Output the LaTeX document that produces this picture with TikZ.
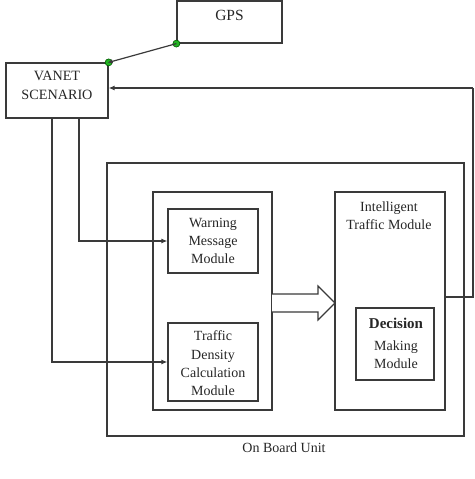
\documentclass[tikz,border=0pt]{standalone}
\usepackage{fontspec}
\setmainfont{Liberation Serif}
\usetikzlibrary{arrows.meta}
\definecolor{ln}{HTML}{3A3A3A}
\definecolor{dotg}{HTML}{22B422}
\tikzset{
  box/.style={draw=ln, line width=1.2pt, rectangle, inner sep=0pt},
  txt/.style={align=center, inner sep=0pt, text=black!85, font=\fontsize{14}{18.3}\selectfont},
  conn/.style={draw=ln, line width=1.2pt},
  arr/.style={conn, -{Latex[length=6pt,width=5pt]}},
  gdot/.style={circle, fill=dotg, draw=green!35!black, line width=0.6pt, inner sep=0pt, minimum size=7pt}
}
\begin{document}
\begin{tikzpicture}[x=1pt,y=-1pt]
\useasboundingbox (0,0) rectangle (474,479);
% boxes
\node[box, minimum width=105pt, minimum height=42pt] (gps) at (229.5,22) {};
\node[txt, font=\fontsize{15.5}{18}\selectfont] (gpst) at (229.5,15) {GPS};
\node[box, minimum width=102pt, minimum height=55pt] (vanet) at (57,90.5) {};
\node[txt, font=\fontsize{14.2}{19}\selectfont] (vanett) at (57,85) {VANET\\SCENARIO};
\node[box, minimum width=357pt, minimum height=273pt] (obu) at (285.5,299.5) {};
\node[txt] (obut) at (284,448) {On Board Unit};
\node[box, minimum width=119pt, minimum height=218pt] (left) at (212.5,301) {};
\node[box, minimum width=90pt, minimum height=64pt] (warn) at (213,241) {};
\node[txt] (warnt) at (213,241) {Warning\\Message\\Module};
\node[box, minimum width=90pt, minimum height=78pt] (tdc) at (213,362) {};
\node[txt] (tdct) at (213,363.5) {Traffic\\Density\\Calculation\\Module};
\node[box, minimum width=110pt, minimum height=218pt] (itm) at (390,301) {};
\node[txt] (itmt) at (389,215.5) {Intelligent\\Traffic Module};
\node[box, minimum width=78pt, minimum height=72pt] (dmm) at (395,344) {};
\node[txt, font=\fontsize{15}{18}\selectfont\bfseries] (dect) at (396,323) {Decision};
\node[txt] (mmt) at (396,355) {Making\\Module};
% GPS link
\coordinate (g1) at (gps.south west);
\coordinate (v1) at (vanet.north east);
\node[gdot] at (g1) {};
\node[gdot] at (v1) {};
\draw[arr, -{Latex[length=5pt,width=4.5pt]}, shorten >=-1pt] (g1) -- (v1);
% feeds from VANET
\draw[arr] (79,118) |- (warn.west);
\draw[arr] (52,118) |- (tdc.west);
% hollow arrow
\draw[draw=ln, line width=1.1pt, fill=white] (272,294) -- (318,294) -- (318,286) -- (335,303) -- (318,320) -- (318,312) -- (272,312);
% feedback
\coordinate (fb) at (473,297);
\draw[conn, line width=1.8pt] (itm.east |- fb) -- (fb) -- (473,88);
\draw[arr] (473,88) -- (vanet.east |- 0,88);
\end{tikzpicture}
\end{document}
